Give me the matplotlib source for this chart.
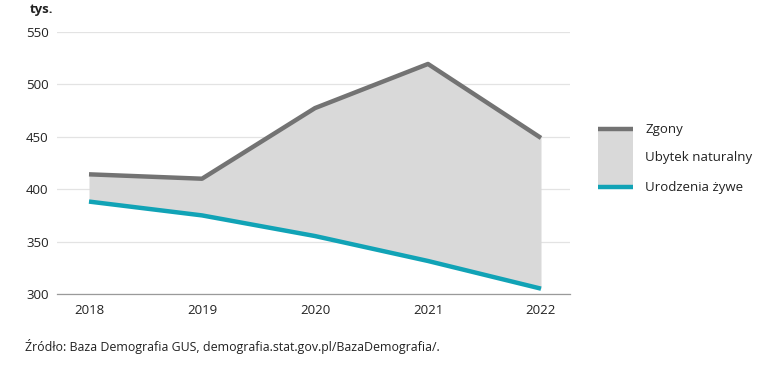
import matplotlib
matplotlib.use("Agg")
import matplotlib.pyplot as plt
from matplotlib.lines import Line2D
from matplotlib.patches import Rectangle

years = [2018, 2019, 2020, 2021, 2022]
zgony = [414.2, 410.0, 477.4, 519.5, 448.9]
urodzenia = [388.2, 375.0, 355.3, 331.5, 305.1]
yticks = [300, 350, 400, 450, 500, 550]

plt.rcParams['font.family'] = ['Open Sans', 'DejaVu Sans']

fig = plt.figure(figsize=(7.68, 3.67), dpi=100)
ax = fig.add_axes([57/768, 1-294/367, (570-57)/768, (294-32)/367])

gray_line = '#737373'
teal = '#11a3b6'
fill_c = '#d9d9d9'

ax.fill_between(years, urodzenia, zgony, color=fill_c, linewidth=0, zorder=2)
ax.plot(years, zgony, color=gray_line, lw=3.2, zorder=3, solid_capstyle='butt')
ax.plot(years, urodzenia, color=teal, lw=3.2, zorder=3, solid_capstyle='butt')

ax.set_ylim(300, 550)
ax.set_xlim(2018 - 32/113, 2022 + 29/113)
ax.set_yticks(yticks)
ax.set_xticks(years)
ax.set_xticklabels([str(y) for y in years])
ax.yaxis.grid(True, color='#e3e3e3', lw=0.9, zorder=0)
ax.set_axisbelow(True)
for s in ['top', 'right', 'left']:
    ax.spines[s].set_visible(False)
ax.spines['bottom'].set_color('#9a9a9a')
ax.spines['bottom'].set_linewidth(0.9)
ax.tick_params(axis='both', length=0, labelsize=9.5, colors='#222222')
ax.tick_params(axis='y', pad=6)
ax.tick_params(axis='x', pad=7)

fig.text(30/768, 1-10/367, 'tys.', fontsize=9.5, color='#222222', fontweight='bold', va='center', ha='left')

# legend (custom)
fig.patches.append(Rectangle((598/768, 1-187/367), 35/768, 58/367, transform=fig.transFigure,
                             facecolor=fill_c, edgecolor='none'))
fig.lines.append(Line2D([598/768, 633/768], [1-129/367, 1-129/367], transform=fig.transFigure,
                        color=gray_line, lw=3.2, solid_capstyle='butt'))
fig.lines.append(Line2D([598/768, 633/768], [1-187/367, 1-187/367], transform=fig.transFigure,
                        color=teal, lw=3.2, solid_capstyle='butt'))
for ty, lab in [(129, 'Zgony'), (158, 'Ubytek naturalny'), (187, 'Urodzenia żywe')]:
    fig.text(645/768, 1-ty/367, lab, fontsize=9.5, color='#222222', va='center', ha='left')

fig.text(25/768, 1-346/367, 'Źródło: Baza Demografia GUS, demografia.stat.gov.pl/BazaDemografia/.',
         fontsize=8.9, color='#222222', va='center', ha='left')

fig.savefig('out.png', dpi=100)
